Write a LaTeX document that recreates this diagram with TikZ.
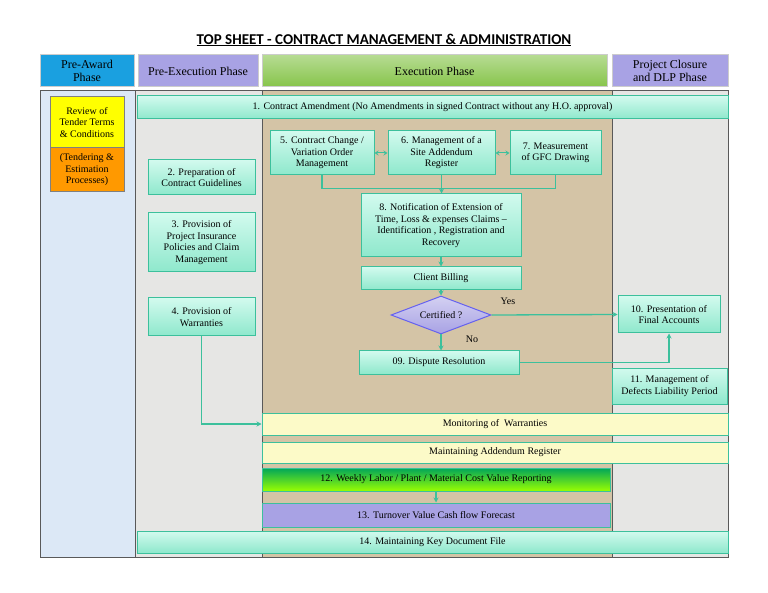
\documentclass[tikz,border=0pt]{standalone}
\usepackage{fontspec}
\setmainfont{Liberation Serif}
\newfontfamily\titlefont{Carlito}
\usetikzlibrary{shapes.geometric,arrows.meta}
\definecolor{tealb}{HTML}{3CC09C}
\definecolor{tealf}{HTML}{8EE8CC}
\definecolor{tealt}{HTML}{D2FAEE}
\definecolor{hblue}{HTML}{1AA0E0}
\definecolor{hpurp}{HTML}{A8A2E4}
\definecolor{hgreen}{HTML}{86C44A}
\definecolor{colblue}{HTML}{DCE8F6}
\definecolor{colgray}{HTML}{E6E6E4}
\definecolor{coltan}{HTML}{D4C4A6}
\definecolor{lyel}{HTML}{FCFAC8}
\tikzset{
  x=1pt,y=-1pt,
  tbox/.style={draw=tealb,line width=1pt,top color=tealt,bottom color=tealf,font=\fontsize{10}{11.5}\selectfont,align=center,inner sep=0pt},
  hdr/.style={draw=gray!40,line width=1pt,font=\fontsize{12}{13}\selectfont,align=center,inner sep=0pt},
  arr/.style={draw=tealb,line width=1.3pt,-{Stealth[length=5pt,width=5pt]}},
  ln/.style={draw=tealb,line width=1.3pt},
  darr/.style={draw=tealb,line width=1pt,{Stealth[open,length=4pt,width=5pt]}-{Stealth[open,length=4pt,width=5pt]}},
  lbl/.style={font=\fontsize{10}{11}\selectfont,inner sep=0pt}
}
\newcommand\bx[6]{\node[#6,minimum width=#3-#2,minimum height=#5-#4] (#1) at ({(#2+#3)/2},{(#4+#5)/2})}
\begin{document}
\begin{tikzpicture}
\useasboundingbox (0,0) rectangle (768,593);
\fill[white] (0,0) rectangle (768,593);
\node[font=\titlefont\bfseries\fontsize{15}{16}\selectfont] (title) at (384,40) {\underline{TOP SHEET - CONTRACT MANAGEMENT \& ADMINISTRATION}};
% columns
\fill[colblue] (40,90) rectangle (135,557);
\fill[colgray] (135,90) rectangle (262,557);
\fill[coltan] (262,90) rectangle (612,557);
\fill[colgray] (612,90) rectangle (728,557);
\draw[gray!70!black,line width=0.8pt] (40,90) rectangle (728,557);
\draw[gray!70!black,line width=0.8pt] (135,90)--(135,557) (262,90)--(262,557) (612,90)--(612,557);
% headers
\bx{h1}{40}{134}{55}{87}{hdr,fill=hblue}{Pre-Award\\Phase};
\bx{h2}{138}{258}{55}{87}{hdr,fill=hpurp}{Pre-Execution Phase};
\bx{h3}{262}{607}{55}{87}{hdr,top color=hgreen!60,bottom color=hgreen}{Execution Phase};
\bx{h4}{612}{728}{55}{87}{hdr,fill=hpurp}{Project Closure\\and DLP Phase};
% boxes
\bx{b1}{137}{728}{96}{119}{tbox}{1. Contract Amendment (No Amendments in signed Contract without any H.O. approval)};
\bx{rev}{50}{124}{97}{148}{tbox,draw=gray,top color=yellow,bottom color=yellow}{Review of\\Tender Terms\\\& Conditions};
\bx{tend}{50}{124}{148}{192}{tbox,draw=gray,top color=orange!80!yellow,bottom color=orange!80!yellow}{(Tendering \&\\Estimation\\Processes)};
\bx{b2}{148}{255}{160}{195}{tbox}{2. Preparation of\\Contract Guidelines};
\bx{b3}{148}{255}{213}{272}{tbox}{3. Provision of\\Project Insurance\\Policies and Claim\\Management};
\bx{b4}{148}{255}{298}{336}{tbox}{4. Provision of\\Warranties};
\bx{b5}{270}{374}{131}{175}{tbox}{5. Contract Change /\\Variation Order\\Management};
\bx{b6}{388}{495}{131}{175}{tbox}{6. Management of a\\Site Addendum\\Register};
\bx{b7}{510}{601}{131}{175}{tbox}{7. Measurement\\of GFC Drawing};
\bx{b8}{361}{521}{194}{257}{tbox}{8. Notification of Extension of\\Time, Loss \& expenses Claims --\\Identification , Registration and\\Recovery};
\bx{cb}{361}{521}{267}{290}{tbox}{Client Billing};
\node[diamond,aspect=2.6,draw=hpurp!60!blue,line width=1pt,top color=hpurp!50,bottom color=hpurp,minimum width=100pt,minimum height=38pt,inner sep=0pt,font=\fontsize{10}{11}\selectfont] (cert) at (441,315) {Certified ?};
\bx{b9}{359}{519}{351}{374}{tbox}{09. Dispute Resolution};
\bx{b10}{618}{720}{296}{333}{tbox}{10. Presentation of\\Final Accounts};
\bx{b11}{612}{727}{368}{404}{tbox}{11. Management of\\Defects Liability Period};
\bx{mon}{262}{728}{413}{435}{tbox,top color=lyel,bottom color=lyel}{Monitoring of~ Warranties};
\bx{madd}{262}{728}{442}{463}{tbox,top color=lyel,bottom color=lyel}{Maintaining Addendum Register};
\bx{b12}{262}{610}{468}{491}{tbox,top color=teal!70!green,bottom color=yellow!60!green}{12. Weekly Labor / Plant / Material Cost Value Reporting};
\bx{b13}{262}{610}{503}{527}{tbox,top color=hpurp,bottom color=hpurp}{13. Turnover Value Cash flow Forecast};
\bx{b14}{137}{728}{531}{553}{tbox}{14. Maintaining Key Document File};
% connectors
\draw[darr] (b5.east) -- (b6.west);
\draw[darr] (b6.east) -- (b7.west);
\draw[ln] (b5.south) -- ++(0,13) -| (b7.south);
\draw[arr] (b6.south) -- (b6.south |- b8.north);
\draw[arr] (b8.south) -- (cb.north);
\draw[arr] (cb.south) -- (cert.north);
\draw[arr] (cert.south) -- (cert.south |- b9.north);
\draw[arr] (cert.east) -- (b10.west);
\draw[arr] (b9.east) -| (b10.south);
\draw[arr] (b4.south) |- (mon.west);
\draw[arr] (b12.south) -- (b13.north);
\node[lbl] (yes) at (508,301) {Yes};
\node[lbl] (no) at (472,339) {No};
\end{tikzpicture}
\end{document}
